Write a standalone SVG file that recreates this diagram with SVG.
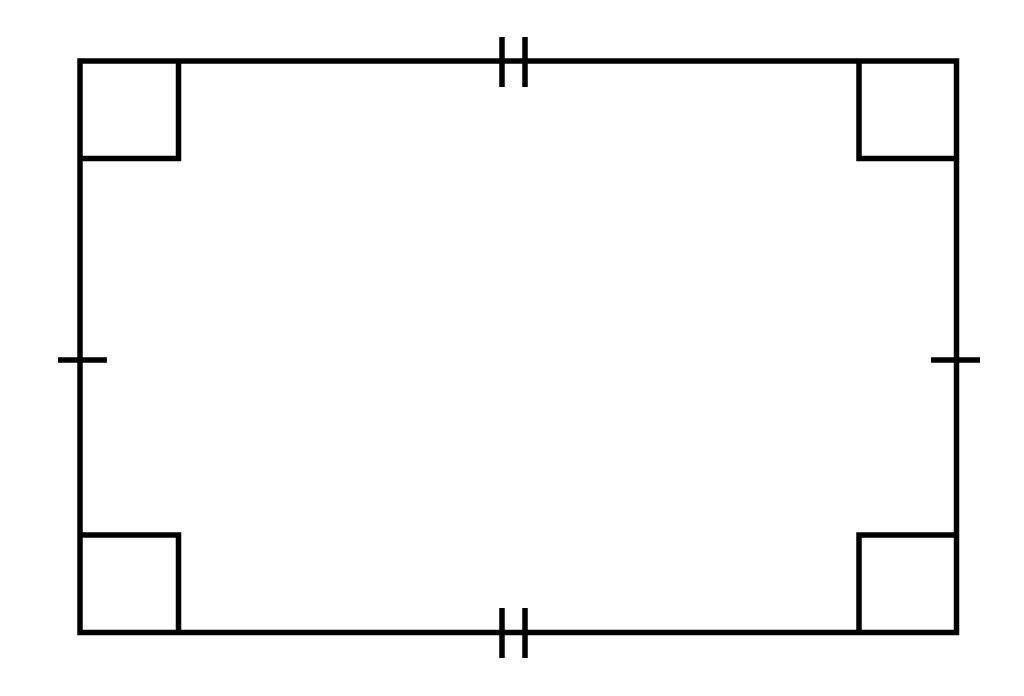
<svg xmlns="http://www.w3.org/2000/svg" width="1024" height="696" viewBox="0 0 1024 696">
<style>
.s{fill:none;stroke:#000;stroke-width:5.5;stroke-linecap:butt;stroke-linejoin:miter}
</style>
<rect width="1024" height="696" fill="#fff"/>
<g id="rectangle">
<rect class="s" x="80" y="61" width="876.5" height="571.5"/>
</g>
<g id="right-angles">
<path class="s" d="M80,158.5 H178.5 V61"/>
<path class="s" d="M859,61 V158.5 H956.5"/>
<path class="s" d="M80,535 H178.5 V632.5"/>
<path class="s" d="M859,632.5 V535 H956.5"/>
</g>
<g id="ticks">
<path class="s" d="M502,37 V87 M525,37 V87"/>
<path class="s" d="M502,608 V658 M525,608 V658"/>
<path class="s" d="M58,360 H107"/>
<path class="s" d="M931,360 H980"/>
</g>
</svg>
